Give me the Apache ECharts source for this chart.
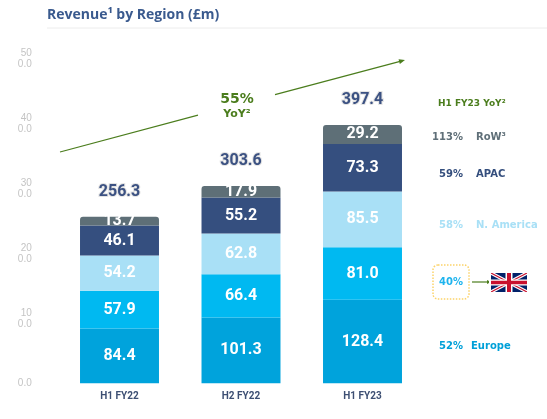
<!DOCTYPE html>
<html>
<head>
<meta charset="utf-8">
<script src="https://cdn.jsdelivr.net/npm/echarts@6/dist/echarts.min.js"></script>
<style>html,body{margin:0;padding:0;background:#fff;}#c{width:547px;height:419px;}</style>
</head>
<body>
<div id="c"></div>
<script>
var categories = ['H1 FY22', 'H2 FY22', 'H1 FY23'];
var europe = [84.4, 101.3, 128.4];
var uk = [57.9, 66.4, 81.0];
var northAmerica = [54.2, 62.8, 85.5];
var apac = [46.1, 55.2, 73.3];
var row = [13.7, 17.9, 29.2];
var yTicks = [0, 100, 200, 300, 400, 500];
var yoyLabels = ['52%', '40%', '58%', '59%', '113%'];
var regionNames = ['Europe', 'UK', 'N. America', 'APAC', 'RoW³'];
var totalYoY = '55%';

var totals = categories.map(function (c, i) {
  return Math.round((europe[i] + uk[i] + northAmerica[i] + apac[i] + row[i]) * 10) / 10;
});
var rowMid = categories.map(function (c, i) {
  return [c, europe[i] + uk[i] + northAmerica[i] + apac[i] + row[i] / 2, row[i]];
});

var colors = ['#00a3dc', '#00b9f1', '#a9e0f6', '#354f7f', '#5e6f77'];
var seriesData = [europe, uk, northAmerica, apac, row];

var chart = echarts.init(document.getElementById('c'), null, {renderer: 'canvas'});

var valueLabel = {
  color: '#ffffff',
  fontFamily: 'Roboto',
  fontWeight: 'bold',
  fontSize: 16,
  textBorderWidth: 0,
  textBorderColor: 'transparent',
  opacity: 1
};

var series = seriesData.map(function (d, k) {
  return {
    name: regionNames[k],
    type: 'bar',
    stack: 'rev',
    data: d,
    barCategoryGap: '35%',
    barGap: '-100%',
    itemStyle: {color: colors[k], borderRadius: k === 4 ? [3, 3, 0, 0] : 0},
    label: Object.assign({
      show: k !== 4,
      position: 'inside',
      formatter: function (p) { return p.value.toFixed(1); }
    }, valueLabel),
    silent: true
  };
});
series.push({
  name: 'Total',
  type: 'bar',
  data: totals,
  barGap: '-100%',
  barCategoryGap: '35%',
  itemStyle: {color: 'rgba(0,0,0,0)'},
  z: 1,
  label: {
    show: true,
    position: 'top',
    distance: 17,
    color: '#3b5182',
    fontFamily: 'Roboto',
    fontWeight: 'bold',
    fontSize: 16,
    textBorderColor: '#e3e3e3',
    textBorderWidth: 2,
    formatter: function (p) { return p.value.toFixed(1); }
  },
  silent: true
});
series.push({
  name: 'RoW labels',
  type: 'scatter',
  data: rowMid,
  symbol: 'rect',
  symbolSize: 1,
  itemStyle: {color: '#5e6f77', opacity: 1},
  z: 20,
  label: Object.assign({
    show: true,
    position: 'inside',
    formatter: function (p) { return p.value[2].toFixed(1); }
  }, valueLabel),
  silent: true
});

// arrow geometry (annotation)
var ax0 = 60, ay0 = 152, ax1 = 405, ay1 = 60;
var slope = (ay1 - ay0) / (ax1 - ax0);
function yAt(x) { return ay0 + slope * (x - ax0); }
var green = '#4b7d1d';
var ang = Math.atan2(ay1 - ay0, ax1 - ax0);
function headPts(x, y, a, len, w) {
  return [[x, y],
    [x - len * Math.cos(a) + w * Math.sin(a), y - len * Math.sin(a) - w * Math.cos(a)],
    [x - len * Math.cos(a) - w * Math.sin(a), y - len * Math.sin(a) + w * Math.cos(a)]];
}

var rightX = 463, nameX = 476;
var labelYs = [346, 282, 225, 174, 137];
var labelColors = ['#00a0d8', '#1eb4ee', '#a9e0f6', '#344e7d', '#5f6f78'];
var graphics = [
  {type: 'text', left: 47, top: 8, style: {text: 'Revenue¹ by Region (£m)', fill: '#3a5a8e', font: 'bold 14px "Open Sans"'}},
  {type: 'line', shape: {x1: 47, y1: 28, x2: 547, y2: 28}, style: {stroke: '#ececec', lineWidth: 1}},
  {type: 'line', shape: {x1: ax0, y1: ay0, x2: 198, y2: yAt(198)}, style: {stroke: green, lineWidth: 1.2}},
  {type: 'line', shape: {x1: 275, y1: yAt(275), x2: ax1 - 3, y2: yAt(ax1 - 3)}, style: {stroke: green, lineWidth: 1.2}},
  {type: 'polygon', shape: {points: headPts(ax1, ay1, ang, 6, 2.5)}, style: {fill: green}},
  {type: 'text', x: 237, y: 99, style: {text: totalYoY, fill: green, font: 'bold 14px "DejaVu Sans"', align: 'center', verticalAlign: 'middle', textShadowColor: 'rgba(240,200,40,0.5)', textShadowOffsetX: -1}},
  {type: 'text', x: 237, y: 114, style: {text: 'YoY²', fill: green, font: 'bold 11px "DejaVu Sans"', align: 'center', verticalAlign: 'middle', textShadowColor: 'rgba(240,200,40,0.5)', textShadowOffsetX: -1}},
  {type: 'text', x: 438, y: 104, style: {text: 'H1 FY23 YoY²', fill: green, font: 'bold 9px "DejaVu Sans"', verticalAlign: 'middle'}},
  {type: 'rect', shape: {x: 433, y: 265, width: 36, height: 34, r: 5}, style: {fill: 'none', stroke: '#fcd36a', lineWidth: 1.5, lineDash: [1.5, 1.5]}},
  {type: 'line', shape: {x1: 472, y1: 282, x2: 488, y2: 282}, style: {stroke: green, lineWidth: 1.2}},
  {type: 'polygon', shape: {points: headPts(491, 282, 0, 4, 2)}, style: {fill: green}}
];
for (var k = 0; k < 5; k++) {
  graphics.push({type: 'text', x: k === 1 ? 451 : rightX, y: labelYs[k], style: {text: yoyLabels[k], fill: labelColors[k], font: 'bold 10px "DejaVu Sans"', align: k === 1 ? 'center' : 'right', verticalAlign: 'middle'}});
  if (k !== 1) {
    graphics.push({type: 'text', x: k === 0 ? 471 : nameX, y: labelYs[k], style: {text: regionNames[k], fill: labelColors[k], font: 'bold 10px "DejaVu Sans"', align: 'left', verticalAlign: 'middle'}});
  }
}
// UK flag
var fx = 491, fy = 273, fw = 36, fh = 19;
graphics.push({
  type: 'group',
  x: fx, y: fy,
  children: [
    {type: 'rect', shape: {x: 0, y: 0, width: fw, height: fh}, style: {fill: '#012169'}},
    {type: 'line', shape: {x1: 0, y1: 0, x2: fw, y2: fh}, style: {stroke: '#fff', lineWidth: 3.5}},
    {type: 'line', shape: {x1: fw, y1: 0, x2: 0, y2: fh}, style: {stroke: '#fff', lineWidth: 3.5}},
    {type: 'line', shape: {x1: 0, y1: 0, x2: fw, y2: fh}, style: {stroke: '#c8102e', lineWidth: 1.2}},
    {type: 'line', shape: {x1: fw, y1: 0, x2: 0, y2: fh}, style: {stroke: '#c8102e', lineWidth: 1.2}},
    {type: 'rect', shape: {x: 0, y: fh / 2 - 3, width: fw, height: 6}, style: {fill: '#fff'}},
    {type: 'rect', shape: {x: fw / 2 - 3.5, y: 0, width: 7, height: fh}, style: {fill: '#fff'}},
    {type: 'rect', shape: {x: 0, y: fh / 2 - 1.8, width: fw, height: 3.6}, style: {fill: '#c8102e'}},
    {type: 'rect', shape: {x: fw / 2 - 2, y: 0, width: 4, height: fh}, style: {fill: '#c8102e'}},
    {type: 'rect', shape: {x: -1, y: -1, width: fw + 2, height: fh + 2}, style: {fill: 'none', stroke: '#fff', lineWidth: 2}}
  ]
});

chart.setOption({
  animation: false,
  backgroundColor: '#fff',
  grid: {left: 58.75, right: 123.75, top: 58.3, bottom: 35.7, containLabel: false},
  xAxis: {
    type: 'category',
    data: categories,
    axisLine: {show: false},
    axisTick: {show: false},
    axisLabel: {color: '#3d4f73', fontFamily: 'Roboto', fontWeight: 'bold', fontSize: 10, margin: 8}
  },
  yAxis: {
    type: 'value',
    min: yTicks[0],
    max: yTicks[yTicks.length - 1],
    interval: 100,
    splitLine: {show: false},
    axisLine: {show: false},
    axisTick: {show: false},
    axisLabel: {
      color: '#c4c4c4',
      fontFamily: 'Liberation Sans',
      fontSize: 10,
      lineHeight: 11,
      margin: 27,
      formatter: function (v) {
        var s = v.toFixed(1);
        return s.length > 3 ? s.slice(0, 2) + '\n' + s.slice(2) : s;
      }
    }
  },
  series: series,
  graphic: graphics
});
</script>
</body>
</html>
